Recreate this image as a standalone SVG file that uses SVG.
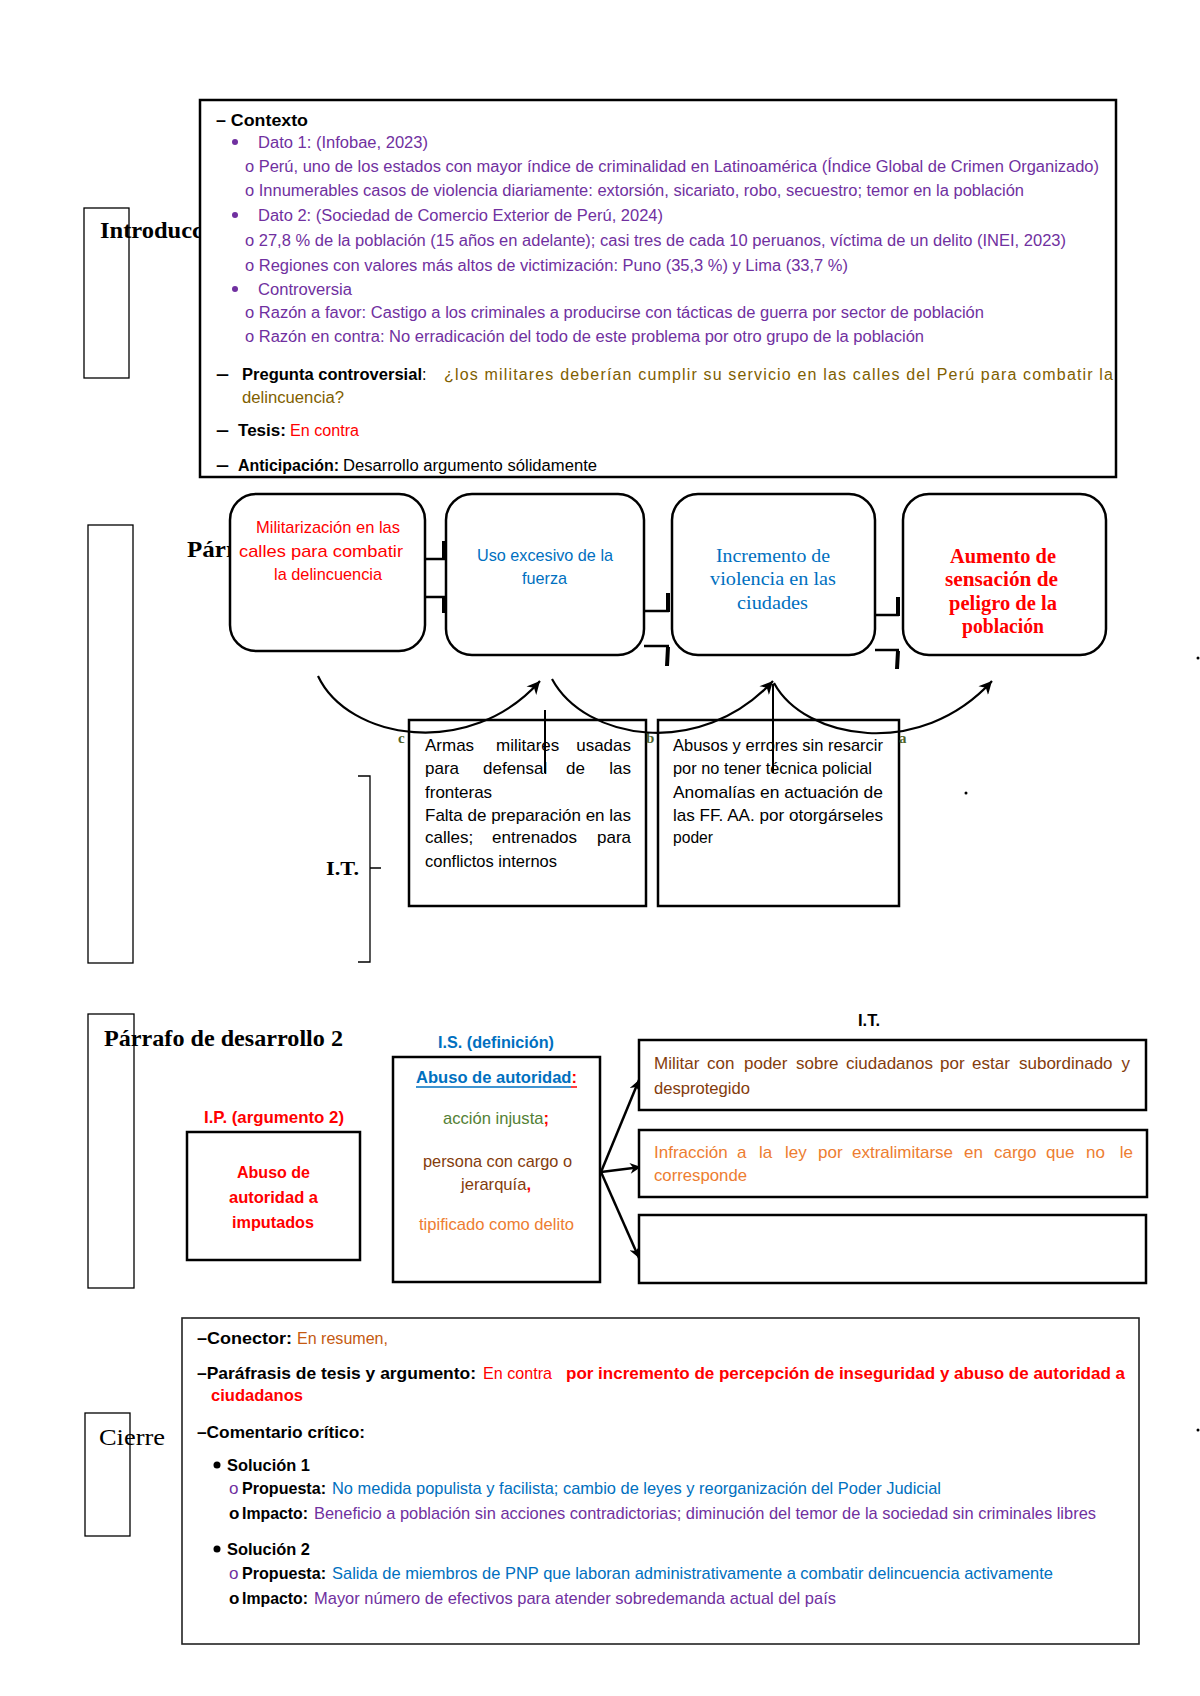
<svg xmlns="http://www.w3.org/2000/svg" width="1200" height="1696" viewBox="0 0 1200 1696">
<defs>
<style>
.s{font-family:"Liberation Sans",Arial,sans-serif;}
.sr{font-family:"Liberation Serif","Times New Roman",serif;}
.b{font-weight:bold;}
.f16{font-size:16px;}
.f17{font-size:17px;}
.pu{fill:#7030A0;}
.ol{fill:#7F6000;}
.rd{fill:#FF0000;}
.bl{fill:#0070C0;}
.gr{fill:#538135;}
.br{fill:#843C0C;}
.or{fill:#ED7D31;}
.ob{fill:#C55A11;}
.k{fill:#000;}
.lbl{font-family:"Liberation Serif","Times New Roman",serif;font-size:24px;fill:#000;}
.box{fill:#fff;stroke:#000;stroke-width:2.5;}
.thin{fill:none;stroke:#000;stroke-width:1.3;}
.rbox{fill:#fff;stroke:#000;stroke-width:2.5;}
.ln{fill:none;stroke:#000;stroke-width:2.5;}
.arc{fill:none;stroke:#000;stroke-width:2.2;}
.tick{fill:none;stroke:#000;stroke-width:4;}
</style>
<marker id="ah" viewBox="0 0 10 10" refX="10" refY="5" markerWidth="18" markerHeight="13" markerUnits="userSpaceOnUse" orient="auto"><path d="M0,0 L10,5 L0,10 L3,5 z" fill="#000"/></marker>
<marker id="ah2" viewBox="0 0 10 10" refX="10" refY="5" markerWidth="13" markerHeight="11" markerUnits="userSpaceOnUse" orient="auto"><path d="M0,0 L10,5 L0,10 L3,5 z" fill="#000"/></marker>
</defs>
<rect width="1200" height="1696" fill="#fff"/>

<!-- Introducción -->
<g id="intro-label">
<rect class="thin" x="84" y="208" width="45" height="170"/>
<text class="lbl b" x="100" y="238" textLength="103" lengthAdjust="spacingAndGlyphs">Introducc</text>
</g>
<g id="intro-box">
<rect x="200" y="100" width="916" height="377" fill="#fff" stroke="#000" stroke-width="2.5"/>
<text class="s b f16 k" x="216" y="126" textLength="92" lengthAdjust="spacingAndGlyphs">– Contexto</text>
<circle cx="235" cy="142" r="3" fill="#7030A0"/>
<text class="s f16 pu" x="258" y="148" textLength="170" lengthAdjust="spacingAndGlyphs">Dato 1: (Infobae, 2023)</text>
<text class="s f16 pu" x="245" y="172" textLength="854" lengthAdjust="spacingAndGlyphs">o Perú, uno de los estados con mayor índice de criminalidad en Latinoamérica (Índice Global de Crimen Organizado)</text>
<text class="s f16 pu" x="245" y="196" textLength="779" lengthAdjust="spacingAndGlyphs">o Innumerables casos de violencia diariamente: extorsión, sicariato, robo, secuestro; temor en la población</text>
<circle cx="235" cy="215" r="3" fill="#7030A0"/>
<text class="s f16 pu" x="258" y="221" textLength="405" lengthAdjust="spacingAndGlyphs">Dato 2: (Sociedad de Comercio Exterior de Perú, 2024)</text>
<text class="s f16 pu" x="245" y="246" textLength="821" lengthAdjust="spacingAndGlyphs">o 27,8 % de la población (15 años en adelante); casi tres de cada 10 peruanos, víctima de un delito (INEI, 2023)</text>
<text class="s f16 pu" x="245" y="271" textLength="603" lengthAdjust="spacingAndGlyphs">o Regiones con valores más altos de victimización: Puno (35,3 %) y Lima (33,7 %)</text>
<circle cx="235" cy="289" r="3" fill="#7030A0"/>
<text class="s f16 pu" x="258" y="295" textLength="94" lengthAdjust="spacingAndGlyphs">Controversia</text>
<text class="s f16 pu" x="245" y="318" textLength="739" lengthAdjust="spacingAndGlyphs">o Razón a favor: Castigo a los criminales a producirse con tácticas de guerra por sector de población</text>
<text class="s f16 pu" x="245" y="342" textLength="679" lengthAdjust="spacingAndGlyphs">o Razón en contra: No erradicación del todo de este problema por otro grupo de la población</text>
<text class="s b f16 k" x="216" y="380" textLength="13" lengthAdjust="spacingAndGlyphs">–</text>
<text class="s f16 k" x="242" y="380"><tspan class="b" textLength="180" lengthAdjust="spacingAndGlyphs">Pregunta controversial</tspan><tspan>:</tspan></text>
<text class="s f16 ol" x="444" y="380" textLength="669" lengthAdjust="spacing">¿los militares deberían cumplir su servicio en las calles del Perú para combatir la</text>
<text class="s f16 ol" x="242" y="403" textLength="102" lengthAdjust="spacingAndGlyphs">delincuencia?</text>
<text class="s b f16 k" x="216" y="436" textLength="13" lengthAdjust="spacingAndGlyphs">–</text>
<text class="s b f16 k" x="238" y="436" textLength="48" lengthAdjust="spacingAndGlyphs">Tesis:</text>
<text class="s f16 rd" x="290" y="436" textLength="69" lengthAdjust="spacingAndGlyphs">En contra</text>
<text class="s b f16 k" x="216" y="471" textLength="13" lengthAdjust="spacingAndGlyphs">–</text>
<text class="s b f16 k" x="238" y="471" textLength="101" lengthAdjust="spacingAndGlyphs">Anticipación:</text>
<text class="s f16 k" x="343" y="471" textLength="254" lengthAdjust="spacingAndGlyphs">Desarrollo argumento sólidamente</text>
</g>

<!-- Párrafo de desarrollo 1 -->
<g id="p1-label">
<rect class="thin" x="88" y="525" width="45" height="438"/>
<text class="lbl b" x="187" y="557" textLength="50" lengthAdjust="spacingAndGlyphs">Párr</text>
</g>
<g id="p1-n1">
<rect class="rbox" x="230" y="494" width="195" height="157" rx="26" ry="26"/>
<text class="s f17 rd" x="256" y="533" textLength="144" lengthAdjust="spacingAndGlyphs">Militarización en las</text>
<text class="s f17 rd" x="239" y="557" textLength="164" lengthAdjust="spacingAndGlyphs">calles para combatir</text>
<text class="s f17 rd" x="274" y="580" textLength="108" lengthAdjust="spacingAndGlyphs">la delincuencia</text>
</g>
<g id="p1-n2">
<rect class="rbox" x="446" y="494" width="198" height="161" rx="26" ry="26"/>
<text class="s f17 bl" x="477" y="561" textLength="136" lengthAdjust="spacingAndGlyphs">Uso excesivo de la</text>
<text class="s f17 bl" x="522" y="584" textLength="45" lengthAdjust="spacingAndGlyphs">fuerza</text>
</g>
<g id="p1-n3">
<rect class="rbox" x="672" y="494" width="203" height="161" rx="26" ry="26"/>
<text class="sr bl" font-size="19" x="716" y="562" textLength="114" lengthAdjust="spacingAndGlyphs">Incremento de</text>
<text class="sr bl" font-size="19" x="710" y="585" textLength="126" lengthAdjust="spacingAndGlyphs">violencia en las</text>
<text class="sr bl" font-size="19" x="737" y="609" textLength="71" lengthAdjust="spacingAndGlyphs">ciudades</text>
</g>
<g id="p1-n4">
<rect class="rbox" x="903" y="494" width="203" height="161" rx="26" ry="26"/>
<text class="sr b rd" font-size="20" x="950" y="563" textLength="106" lengthAdjust="spacingAndGlyphs">Aumento de</text>
<text class="sr b rd" font-size="20" x="945" y="586" textLength="113" lengthAdjust="spacingAndGlyphs">sensación de</text>
<text class="sr b rd" font-size="20" x="949" y="610" textLength="108" lengthAdjust="spacingAndGlyphs">peligro de la</text>
<text class="sr b rd" font-size="20" x="962" y="633" textLength="82" lengthAdjust="spacingAndGlyphs">población</text>
</g>
<g id="p1-it-a">
<rect class="box" x="409" y="720" width="237" height="186"/>
<text class="s f17 k" x="425" y="751">Armas</text>
<text class="s f17 k" x="496" y="751">militares</text>
<text class="s f17 k" x="631" y="751" text-anchor="end">usadas</text>
<text class="s f17 k" x="425" y="774">para</text>
<text class="s f17 k" x="483" y="774">defensal</text>
<text class="s f17 k" x="566" y="774">de</text>
<text class="s f17 k" x="631" y="774" text-anchor="end">las</text>
<text class="s f17 k" x="425" y="798">fronteras</text>
<text class="s f17 k" x="425" y="821" textLength="206" lengthAdjust="spacingAndGlyphs">Falta de preparación en las</text>
<text class="s f17 k" x="425" y="843">calles;</text>
<text class="s f17 k" x="492" y="843">entrenados</text>
<text class="s f17 k" x="631" y="843" text-anchor="end">para</text>
<text class="s f17 k" x="425" y="867" textLength="132" lengthAdjust="spacingAndGlyphs">conflictos internos</text>
</g>
<g id="p1-it-b">
<rect class="box" x="658" y="720" width="241" height="186"/>
<text class="s f17 k" x="673" y="751" textLength="210" lengthAdjust="spacingAndGlyphs">Abusos y errores sin resarcir</text>
<text class="s f17 k" x="673" y="774" textLength="199" lengthAdjust="spacingAndGlyphs">por no tener técnica policial</text>
<text class="s f17 k" x="673" y="798" textLength="210" lengthAdjust="spacingAndGlyphs">Anomalías en actuación de</text>
<text class="s f17 k" x="673" y="821" textLength="210" lengthAdjust="spacingAndGlyphs">las FF. AA. por otorgárseles</text>
<text class="s f17 k" x="673" y="843" textLength="40" lengthAdjust="spacingAndGlyphs">poder</text>
</g>
<g id="p1-it-label">
<text class="sr b" font-size="19" x="326" y="875" textLength="33" lengthAdjust="spacingAndGlyphs" fill="#000">I.T.</text>
<path d="M358,776 L370,776 L370,868 L381,868 M370,868 L370,962 L358,962" fill="none" stroke="#000" stroke-width="1.3"/>
</g>
<g id="p1-letters" font-family="Liberation Serif, serif" font-weight="bold" font-size="15" fill="#4F6228">
<text x="398" y="743">c</text>
<text x="646" y="743">b</text>
<text x="899" y="743">a</text>
</g>
<g id="connectors">
<path class="ln" d="M425,559 L445,559 M425,597 L445,597"/>
<path class="tick" d="M444,541 L444,560 M444,597 L444,613"/>
<path class="ln" d="M644,611 L669,611 M644,646 L669,646"/>
<path class="tick" d="M668,593 L668,612 M668,647 L667,666"/>
<path class="ln" d="M875,615 L899,615 M875,650 L899,650"/>
<path class="tick" d="M898,597 L898,616 M898,651 L897,669"/>
<path class="arc" d="M318,676 C348,740 470,760 540,681" marker-end="url(#ah)"/>
<path class="arc" d="M552,679 C585,740 700,760 773,681" marker-end="url(#ah)"/>
<path class="arc" d="M774,683 C805,740 920,760 992,681" marker-end="url(#ah)"/>
<path d="M545,710 L545,773 M773,684 L773,773" stroke="#000" stroke-width="2" fill="none"/>
<path class="ln" d="M601,1172 L639,1080" marker-end="url(#ah2)"/>
<path class="ln" d="M601,1172 L641,1167" marker-end="url(#ah2)"/>
<path class="ln" d="M601,1172 L639,1258" marker-end="url(#ah2)"/>
</g>
<g id="marks" fill="#000">
<circle cx="1198" cy="658" r="1.5"/>
<circle cx="966" cy="793" r="1.5"/>
<circle cx="1198" cy="1430" r="1.5"/>
</g>

<!-- Párrafo de desarrollo 2 -->
<g id="p2-label">
<rect class="thin" x="88" y="1014" width="46" height="274"/>
<text class="lbl b" x="104" y="1046" textLength="239" lengthAdjust="spacingAndGlyphs">Párrafo de desarrollo 2</text>
</g>
<g id="p2-ip">
<text class="s b f17 rd" x="204" y="1123" textLength="140" lengthAdjust="spacingAndGlyphs">I.P. (argumento 2)</text>
<rect class="box" x="187" y="1132" width="173" height="128"/>
<text class="s b f17 rd" x="237" y="1178" textLength="73" lengthAdjust="spacingAndGlyphs">Abuso de</text>
<text class="s b f17 rd" x="229" y="1203" textLength="89" lengthAdjust="spacingAndGlyphs">autoridad a</text>
<text class="s b f17 rd" x="232" y="1228" textLength="82" lengthAdjust="spacingAndGlyphs">imputados</text>
</g>
<g id="p2-is">
<text class="s b f17 bl" x="438" y="1048" textLength="116" lengthAdjust="spacingAndGlyphs">I.S. (definición)</text>
<rect class="box" x="393" y="1057" width="207" height="225"/>
<text class="s b f17" x="416" y="1083" textLength="161" lengthAdjust="spacingAndGlyphs"><tspan class="bl">Abuso de autoridad</tspan><tspan class="rd">:</tspan></text>
<line x1="416" y1="1087" x2="571" y2="1087" stroke="#0070C0" stroke-width="1.5"/>
<line x1="571" y1="1087" x2="577" y2="1087" stroke="#FF0000" stroke-width="1.5"/>
<text class="s f17" x="443" y="1124" textLength="106" lengthAdjust="spacingAndGlyphs"><tspan class="gr">acción injusta</tspan><tspan class="rd b">;</tspan></text>
<text class="s f17 br" x="423" y="1167" textLength="149" lengthAdjust="spacingAndGlyphs">persona con cargo o</text>
<text class="s f17" x="461" y="1190" textLength="70" lengthAdjust="spacingAndGlyphs"><tspan class="br">jerarquía</tspan><tspan class="rd b">,</tspan></text>
<text class="s f17 or" x="419" y="1230" textLength="155" lengthAdjust="spacingAndGlyphs">tipificado como delito</text>
</g>
<g id="p2-it-label">
<text class="s b f17 k" x="858" y="1026" textLength="22" lengthAdjust="spacingAndGlyphs">I.T.</text>
</g>
<g id="p2-it1" class="s f17 br">
<rect class="box" x="639" y="1040" width="507" height="70"/>
<text x="654" y="1069">Militar</text>
<text x="707" y="1069">con</text>
<text x="744" y="1069">poder</text>
<text x="796" y="1069">sobre</text>
<text x="846" y="1069">ciudadanos</text>
<text x="940" y="1069">por</text>
<text x="972" y="1069">estar</text>
<text x="1019" y="1069">subordinado</text>
<text x="1130" y="1069" text-anchor="end">y</text>
<text x="654" y="1094" textLength="96" lengthAdjust="spacingAndGlyphs">desprotegido</text>
</g>
<g id="p2-it2" class="s f17 or">
<rect class="box" x="639" y="1130" width="508" height="67"/>
<text x="654" y="1158">Infracción</text>
<text x="737" y="1158">a</text>
<text x="759" y="1158">la</text>
<text x="785" y="1158">ley</text>
<text x="818" y="1158">por</text>
<text x="852" y="1158">extralimitarse</text>
<text x="964" y="1158">en</text>
<text x="994" y="1158">cargo</text>
<text x="1046" y="1158">que</text>
<text x="1086" y="1158">no</text>
<text x="1133" y="1158" text-anchor="end">le</text>
<text x="654" y="1181" textLength="93" lengthAdjust="spacingAndGlyphs">corresponde</text>
</g>
<g id="p2-it3">
<rect class="box" x="639" y="1215" width="507" height="68"/>
</g>

<!-- Cierre -->
<g id="cierre-label">
<rect class="thin" x="85" y="1413" width="45" height="123"/>
<text class="lbl" x="99" y="1445" textLength="66" lengthAdjust="spacingAndGlyphs">Cierre</text>
</g>
<g id="cierre-box">
<rect x="182" y="1318" width="957" height="326" fill="none" stroke="#222" stroke-width="1.6"/>
<text class="s b f17 k" x="197" y="1344" textLength="95" lengthAdjust="spacingAndGlyphs">–Conector:</text>
<text class="s f17 ob" x="297" y="1344" textLength="91" lengthAdjust="spacingAndGlyphs">En resumen,</text>
<text class="s b f17 k" x="197" y="1379" textLength="279" lengthAdjust="spacingAndGlyphs">–Paráfrasis de tesis y argumento:</text>
<text class="s f17 rd" x="483" y="1379" textLength="69" lengthAdjust="spacingAndGlyphs">En contra</text>
<text class="s b f17 rd" x="566" y="1379" textLength="559" lengthAdjust="spacingAndGlyphs">por incremento de percepción de inseguridad y abuso de autoridad a</text>
<text class="s b f17 rd" x="211" y="1401" textLength="92" lengthAdjust="spacingAndGlyphs">ciudadanos</text>
<text class="s b f17 k" x="197" y="1438" textLength="168" lengthAdjust="spacingAndGlyphs">–Comentario crítico:</text>
<circle cx="217" cy="1465" r="3.5" fill="#000"/>
<text class="s b f17 k" x="227" y="1471" textLength="83" lengthAdjust="spacingAndGlyphs">Solución 1</text>
<text class="s f17 pu" x="229" y="1494">o</text>
<text class="s b f17 k" x="242" y="1494" textLength="84" lengthAdjust="spacingAndGlyphs">Propuesta:</text>
<text class="s f17 bl" x="332" y="1494" textLength="609" lengthAdjust="spacingAndGlyphs">No medida populista y facilista; cambio de leyes y reorganización del Poder Judicial</text>
<text class="s b f17 k" x="229" y="1519">o</text>
<text class="s b f17 k" x="242" y="1519" textLength="66" lengthAdjust="spacingAndGlyphs">Impacto:</text>
<text class="s f17 pu" x="314" y="1519" textLength="782" lengthAdjust="spacingAndGlyphs">Beneficio a población sin acciones contradictorias; diminución del temor de la sociedad sin criminales libres</text>
<circle cx="217" cy="1549" r="3.5" fill="#000"/>
<text class="s b f17 k" x="227" y="1555" textLength="83" lengthAdjust="spacingAndGlyphs">Solución 2</text>
<text class="s f17 pu" x="229" y="1579">o</text>
<text class="s b f17 k" x="242" y="1579" textLength="84" lengthAdjust="spacingAndGlyphs">Propuesta:</text>
<text class="s f17 bl" x="332" y="1579" textLength="721" lengthAdjust="spacingAndGlyphs">Salida de miembros de PNP que laboran administrativamente a combatir delincuencia activamente</text>
<text class="s b f17 k" x="229" y="1604">o</text>
<text class="s b f17 k" x="242" y="1604" textLength="66" lengthAdjust="spacingAndGlyphs">Impacto:</text>
<text class="s f17 pu" x="314" y="1604" textLength="522" lengthAdjust="spacingAndGlyphs">Mayor número de efectivos para atender sobredemanda actual del país</text>
</g>
</svg>
